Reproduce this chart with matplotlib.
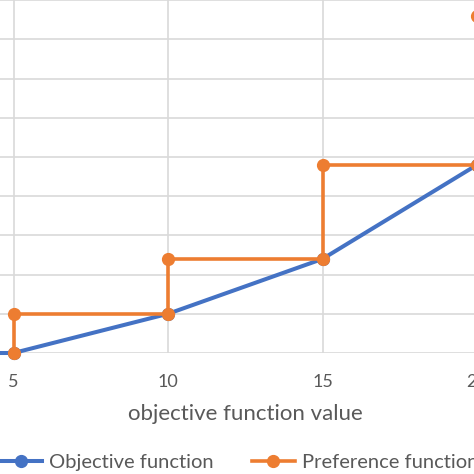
import matplotlib
matplotlib.use('Agg')
import matplotlib.pyplot as plt

# objective function values at each x
x_obj = [0, 5, 10, 15, 20]
y_obj = [0, 0, 1.0, 2.4, 4.8]

# preference function (step) points
x_pref = [5, 5, 10, 10, 15, 15, 20, 20]
y_pref = [0, 1.0, 1.0, 2.4, 2.4, 4.8, 4.8, 8.6]

xticks = [5, 10, 15, 20]

blue = '#4472C4'
orange = '#ED7D31'
gray = '#595959'

plt.rcParams['font.family'] = ['Lato', 'DejaVu Sans']

fig = plt.figure(figsize=(4.74, 4.74), dpi=100)
# axes wider than the figure: the reference is a crop of a bigger chart
ax = fig.add_axes([-17.4 / 474, 121 / 474, 525.3 / 474, 360.6 / 474])
ax.set_xlim(4, 21)
ax.set_ylim(0, 9.2)

ax.plot(x_obj, y_obj, color=blue, lw=2.9, marker='o', ms=8.5,
        label='Objective function', zorder=3, clip_on=False)
ax.plot(x_pref, y_pref, color=orange, lw=2.6, marker='o', ms=8.5,
        label='Preference function', zorder=4, clip_on=False)

ax.set_xticks(xticks)
ax.set_yticks(range(0, 10))
ax.set_yticklabels([])
ax.grid(True, color='#D9D9D9', lw=1.2)
ax.set_axisbelow(True)
for s in ax.spines.values():
    s.set_visible(False)
ax.tick_params(length=0, labelsize=13, labelcolor=gray, pad=15)

ax.set_xlabel('objective function value', fontsize=16, color=gray, labelpad=10)

fig.legend(loc='center left', bbox_to_anchor=(-0.017, 0.025), ncol=2,
           frameon=False, fontsize=14.5, labelcolor=gray, handlelength=2.1,
           handletextpad=0.35, columnspacing=1.9, borderaxespad=0)

fig.savefig('out.png', dpi=100)
